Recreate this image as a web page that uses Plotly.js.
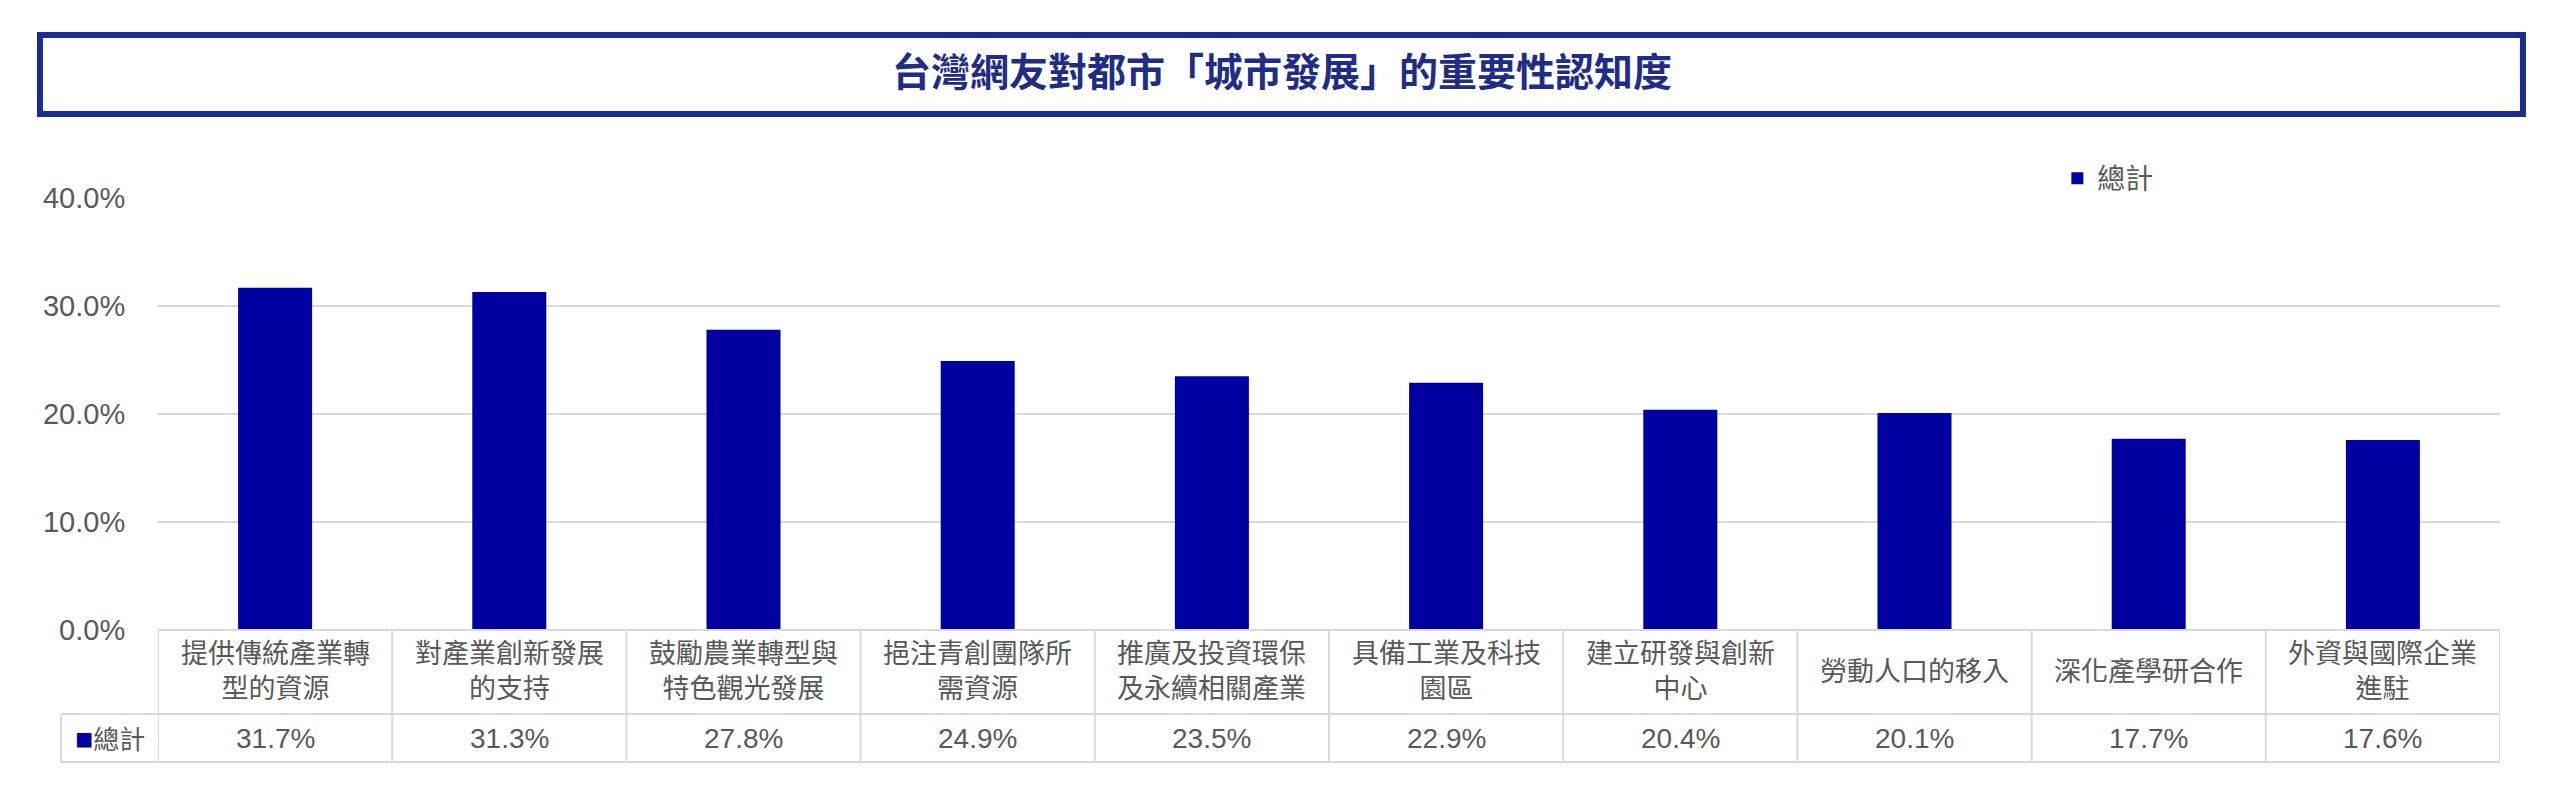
<!DOCTYPE html>
<html>
<head>
<meta charset="utf-8">
<script src="https://cdn.plot.ly/plotly-3.0.1.min.js"></script>
<style>
    html, body { margin: 0; padding: 0; background: #ffffff; }
    #urbanChart { width: 2560px; height: 800px; }
</style>
</head>
<body>
<div id="urbanChart"></div>
<script>
const chartTitle = "台灣網友對都市「城市發展」的重要性認知度";
const seriesName = "總計";
const categories = [
    "提供傳統產業轉型的資源",
    "對產業創新發展的支持",
    "鼓勵農業轉型與特色觀光發展",
    "挹注青創團隊所需資源",
    "推廣及投資環保及永續相關產業",
    "具備工業及科技園區",
    "建立研發與創新中心",
    "勞動人口的移入",
    "深化產學研合作",
    "外資與國際企業進駐"
];
const totalValues = [31.7, 31.3, 27.8, 24.9, 23.5, 22.9, 20.4, 20.1, 17.7, 17.6];
const yTickValues = [0, 10, 20, 30, 40];

const BAR_COLOUR = "#0000A0";
const TEXT_COLOUR = "#595959";
const GRID_COLOUR = "#d9d9d9";
const TITLE_COLOUR = "#1F2D86";
const FONT_FAMILY = '"Liberation Sans", "Noto Sans CJK TC", sans-serif';

// table geometry, in paper units of the plot area
const HEADER_Y = -0.0972;
const VALUE_Y = -0.25;
const ROW_LINE_Y = -0.1944;
const TABLE_BOTTOM_Y = -0.3056;
const LEGEND_COL_X = -0.0414;

function wrapLabel(label, lineLength) {
    const chars = Array.from(label);
    const lines = [];
    for (let i = 0; i < chars.length; i += lineLength) {
        lines.push(chars.slice(i, i + lineLength).join(""));
    }
    return lines.join("<br>");
}

function tableLine(x0, x1, y0, y1, xref) {
    return {
        type: "line",
        layer: "above",
        xref: xref,
        yref: "paper",
        x0: x0,
        x1: x1,
        y0: y0,
        y1: y1,
        line: { color: GRID_COLOUR, width: 2 }
    };
}

function buildTableShapes() {
    const shapes = [];
    const lastEdge = categories.length - 0.5;

    shapes.push(tableLine(-0.5, lastEdge, 0, 0, "x"));
    shapes.push(tableLine(LEGEND_COL_X, 1, ROW_LINE_Y, ROW_LINE_Y, "paper"));
    shapes.push(tableLine(LEGEND_COL_X, 1, TABLE_BOTTOM_Y, TABLE_BOTTOM_Y, "paper"));
    shapes.push(tableLine(LEGEND_COL_X, LEGEND_COL_X, ROW_LINE_Y, TABLE_BOTTOM_Y, "paper"));

    for (let i = 0; i <= categories.length; i++) {
        shapes.push(tableLine(i - 0.5, i - 0.5, 0, TABLE_BOTTOM_Y, "x"));
    }

    // title frame
    shapes.push({
        type: "rect",
        layer: "above",
        xref: "paper",
        yref: "paper",
        x0: -0.0504,
        x1: 1.0098,
        y0: 1.1944,
        y1: 1.3773,
        line: { color: "#1A2B96", width: 6 },
        fillcolor: "rgba(0,0,0,0)"
    });

    return shapes;
}

function buildTableAnnotations() {
    const annotations = [];

    categories.forEach((category, i) => {
        annotations.push({
            x: i,
            y: HEADER_Y,
            xref: "x",
            yref: "paper",
            text: wrapLabel(category, 7),
            showarrow: false,
            xanchor: "center",
            yanchor: "middle",
            align: "center",
            font: { family: FONT_FAMILY, size: 27, color: TEXT_COLOUR }
        });

        annotations.push({
            x: i,
            y: VALUE_Y,
            xref: "x",
            yref: "paper",
            text: totalValues[i].toFixed(1) + "%",
            showarrow: false,
            xanchor: "center",
            yanchor: "middle",
            font: { family: FONT_FAMILY, size: 28, color: TEXT_COLOUR }
        });
    });

    annotations.push({
        x: (LEGEND_COL_X + 0) / 2,
        y: VALUE_Y,
        xref: "paper",
        yref: "paper",
        text: '<span style="color:' + BAR_COLOUR + ';font-size:30px">■</span>' + seriesName,
        showarrow: false,
        xanchor: "center",
        yanchor: "middle",
        font: { family: FONT_FAMILY, size: 26, color: TEXT_COLOUR }
    });

    return annotations;
}

const data = [{
    type: "bar",
    name: seriesName,
    x: categories,
    y: totalValues,
    width: 0.316,
    marker: { color: BAR_COLOUR, line: { width: 0 } },
    hoverinfo: "skip"
}];

const layout = {
    width: 2560,
    height: 800,
    margin: { l: 158, r: 60, t: 198, b: 170 },
    paper_bgcolor: "#ffffff",
    plot_bgcolor: "#ffffff",
    font: { family: FONT_FAMILY, color: TEXT_COLOUR },
    title: {
        text: chartTitle,
        xref: "container",
        yref: "container",
        x: 0.5008,
        y: 0.909,
        xanchor: "center",
        yanchor: "middle",
        font: { family: FONT_FAMILY, size: 39, color: TITLE_COLOUR, weight: "bold" }
    },
    showlegend: true,
    legend: {
        x: 0.811,
        y: 1.045,
        xanchor: "left",
        yanchor: "middle",
        bgcolor: "rgba(0,0,0,0)",
        font: { family: FONT_FAMILY, size: 28, color: TEXT_COLOUR }
    },
    xaxis: {
        type: "category",
        range: [-0.5, categories.length - 0.5],
        showticklabels: false,
        showgrid: false,
        zeroline: false,
        showline: false,
        ticks: "",
        fixedrange: true
    },
    yaxis: {
        range: [0, 40],
        tickvals: yTickValues,
        ticktext: yTickValues.map((v) => v.toFixed(1) + "%"),
        showgrid: true,
        gridcolor: GRID_COLOUR,
        gridwidth: 2,
        zeroline: false,
        showline: false,
        ticks: "outside",
        ticklen: 26,
        tickcolor: "rgba(0,0,0,0)",
        tickfont: { family: FONT_FAMILY, size: 29, color: TEXT_COLOUR },
        fixedrange: true
    },
    shapes: buildTableShapes(),
    annotations: buildTableAnnotations(),
    bargap: 0.684
};

Plotly.newPlot("urbanChart", data, layout, { displayModeBar: false, staticPlot: true });
</script>
</body>
</html>
